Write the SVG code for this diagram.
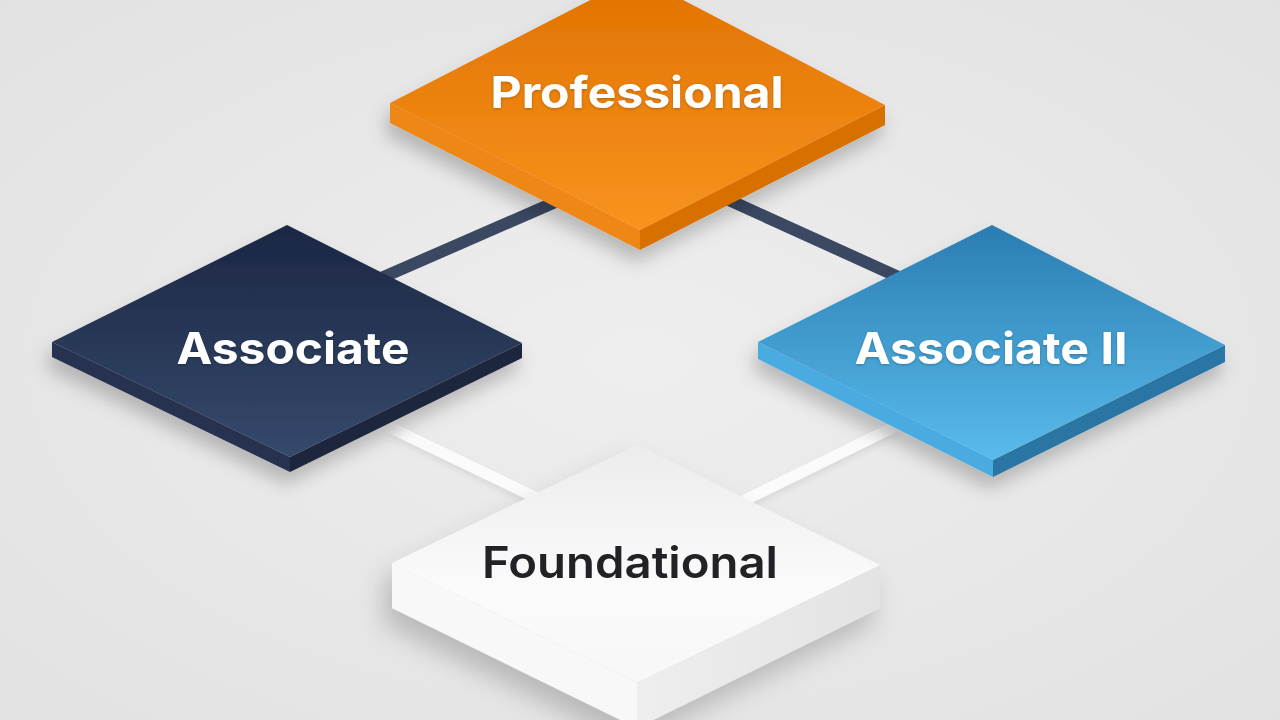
<svg xmlns="http://www.w3.org/2000/svg" width="1280" height="720" viewBox="0 0 1280 720">
  <defs>
    <radialGradient id="bg" cx="50%" cy="50%" r="70%">
      <stop offset="0" stop-color="#eeeeee"/>
      <stop offset="1" stop-color="#e2e2e2"/>
    </radialGradient>
    <linearGradient id="proTop" x1="0" y1="0" x2="0" y2="1">
      <stop offset="0" stop-color="#e07200"/>
      <stop offset="1" stop-color="#f8931f"/>
    </linearGradient>
    <linearGradient id="assocTop" x1="0" y1="0" x2="0" y2="1">
      <stop offset="0" stop-color="#1b2743"/>
      <stop offset="1" stop-color="#36496c"/>
    </linearGradient>
    <linearGradient id="assoc2Top" x1="0" y1="0" x2="0" y2="1">
      <stop offset="0" stop-color="#2a7db1"/>
      <stop offset="1" stop-color="#5abbec"/>
    </linearGradient>
    <linearGradient id="foundTop" x1="0" y1="0" x2="0" y2="1">
      <stop offset="0" stop-color="#ececec"/>
      <stop offset="0.6" stop-color="#fbfbfb"/>
      <stop offset="1" stop-color="#f7f7f7"/>
    </linearGradient>
    <linearGradient id="foundRight" x1="0" y1="0" x2="1" y2="0">
      <stop offset="0" stop-color="#eeeeee"/>
      <stop offset="1" stop-color="#e3e3e3"/>
    </linearGradient>
    <linearGradient id="wl1" gradientUnits="userSpaceOnUse" x1="385" y1="425" x2="545" y2="502">
      <stop offset="0" stop-color="#f4f4f4" stop-opacity="0"/>
      <stop offset="0.12" stop-color="#fafafa"/>
      <stop offset="1" stop-color="#fbfbfb"/>
    </linearGradient>
    <linearGradient id="wl2" gradientUnits="userSpaceOnUse" x1="735" y1="505" x2="900" y2="424">
      <stop offset="0" stop-color="#fbfbfb"/>
      <stop offset="0.88" stop-color="#fafafa"/>
      <stop offset="1" stop-color="#f4f4f4" stop-opacity="0.3"/>
    </linearGradient>
    <filter id="shadow" x="-20%" y="-20%" width="140%" height="160%">
      <feDropShadow dx="-4" dy="12" stdDeviation="9" flood-color="#000" flood-opacity="0.22"/>
    </filter>
    <filter id="shadowBig" x="-20%" y="-20%" width="140%" height="160%">
      <feDropShadow dx="-8" dy="16" stdDeviation="13" flood-color="#000" flood-opacity="0.2"/>
    </filter>
    <filter id="lineShadow" x="-20%" y="-50%" width="140%" height="200%">
      <feDropShadow dx="0" dy="4" stdDeviation="3" flood-color="#000" flood-opacity="0.08"/>
    </filter>
    <filter id="textShadow" x="-10%" y="-30%" width="120%" height="160%">
      <feDropShadow dx="0" dy="1" stdDeviation="1.5" flood-color="#000" flood-opacity="0.25"/>
    </filter>
  </defs>
  <style>
    .label { font-family: Inter, "Open Sans", "Liberation Sans", sans-serif; font-weight: 700; font-size: 44px; text-anchor: middle; }
    .light { fill: #ffffff; }
    .dark { fill: #232325; font-weight: 600; }
    .dline { stroke: #3b4862; stroke-width: 12; fill: none; stroke-linecap: butt; }
    .wline { stroke-width: 11; fill: none; stroke-linecap: butt; }
  </style>

  <rect width="1280" height="720" fill="url(#bg)"/>

  <g id="connectors">
    <line class="dline" x1="372" y1="282" x2="560" y2="200"/>
    <line class="dline" x1="720" y1="196" x2="905" y2="280"/>
    <line class="wline" stroke="url(#wl1)" filter="url(#lineShadow)" x1="385" y1="425" x2="545" y2="502"/>
    <line class="wline" stroke="url(#wl2)" filter="url(#lineShadow)" x1="735" y1="505" x2="900" y2="424"/>
  </g>

  <g id="node-associate" filter="url(#shadow)">
    <polygon points="52,342 290,457 290,472 52,357" fill="#25334f"/>
    <polygon points="290,457 522,343 522,358 290,472" fill="#1a253e"/>
    <polygon points="287,225 522,343 290,457 52,342" fill="url(#assocTop)"/>
    <text class="label light" x="293" y="364" textLength="233" lengthAdjust="spacingAndGlyphs" filter="url(#textShadow)">Associate</text>
  </g>

  <g id="node-associate-ii" filter="url(#shadow)">
    <polygon points="758,342 993,460 993,477 758,359" fill="#49abe0"/>
    <polygon points="993,460 1225,345 1225,362 993,477" fill="#2c74a4"/>
    <polygon points="992,225 1225,345 993,460 758,342" fill="url(#assoc2Top)"/>
    <text class="label light" x="991" y="364" textLength="273" lengthAdjust="spacingAndGlyphs" filter="url(#textShadow)">Associate II</text>
  </g>

  <g id="node-professional" filter="url(#shadow)">
    <polygon points="390,103 640,230 640,250 390,123" fill="#ef8716"/>
    <polygon points="640,230 885,105 885,125 640,250" fill="#d86f00"/>
    <polygon points="637,-24 885,105 640,230 390,103" fill="url(#proTop)"/>
    <text class="label light" x="637" y="108" textLength="293" lengthAdjust="spacingAndGlyphs" filter="url(#textShadow)">Professional</text>
  </g>

  <g id="node-foundational" filter="url(#shadowBig)">
    <polygon points="392,563 637,683 637,728 392,608" fill="#f8f8f8"/>
    <polygon points="637,683 880,565 880,608 637,728" fill="url(#foundRight)"/>
    <polygon points="637,445 880,565 637,683 392,563" fill="url(#foundTop)"/>
    <text class="label dark" x="630" y="578" textLength="296" lengthAdjust="spacingAndGlyphs">Foundational</text>
  </g>
</svg>
